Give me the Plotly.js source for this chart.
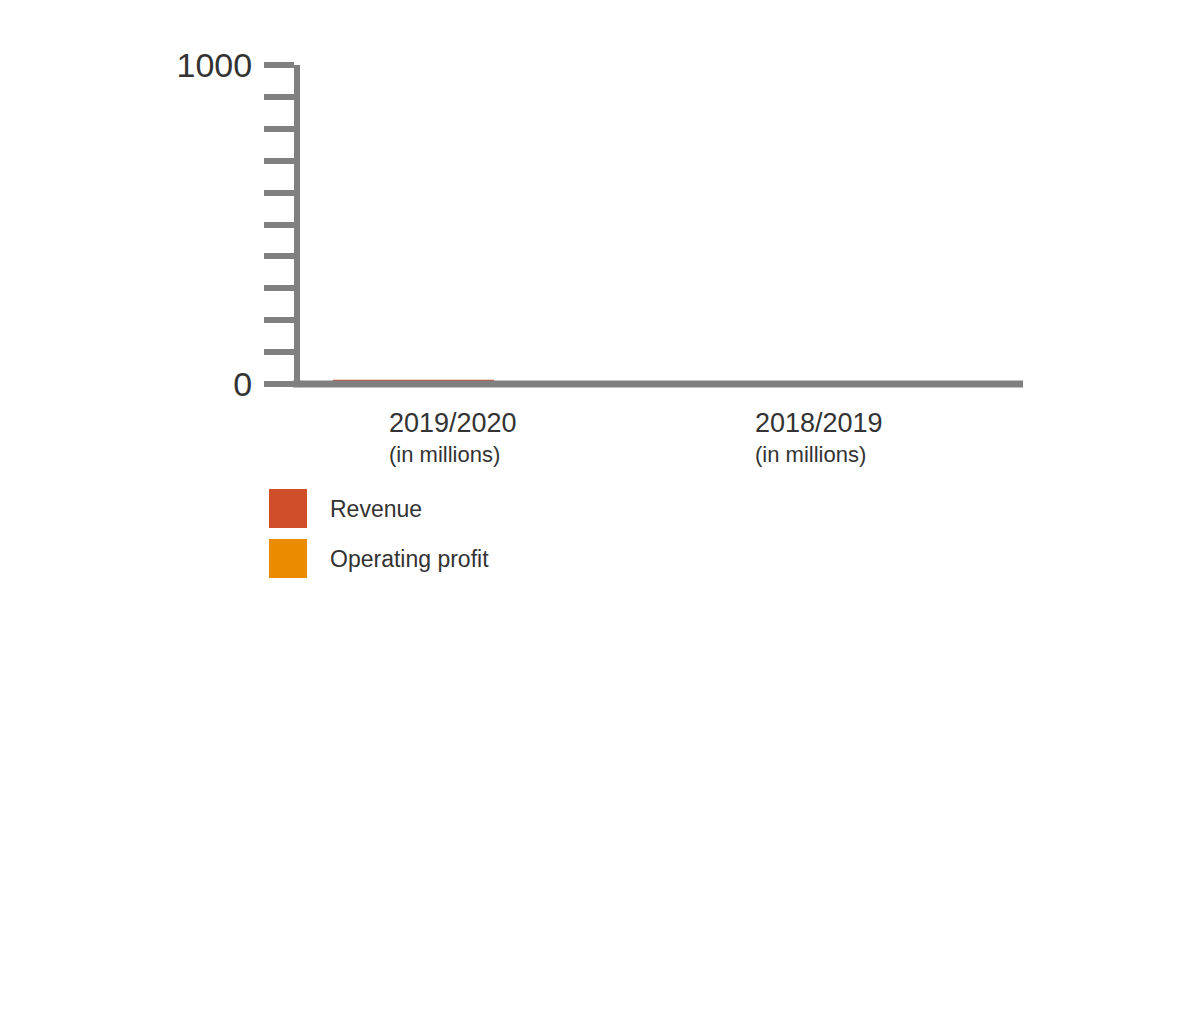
<!DOCTYPE html>
<html>
<head>
<meta charset="utf-8">
<script src="https://cdn.plot.ly/plotly-3.0.1.min.js"></script>
<style>html,body{margin:0;padding:0;background:#fff;}#chart{width:1200px;height:1035px;}</style>
</head>
<body>
<div id="chart"></div>
<script>
// ---- data ----
var categories = ['2019/2020', '2018/2019'];
var subLabels = ['(in millions)', '(in millions)'];
var seriesNames = ['Revenue', 'Operating profit'];
var seriesColors = ['#D04E2A', '#EB8C00'];
var revenue = [13, 0];
var operatingProfit = [0, 0];
var yTickValues = [0, 100, 200, 300, 400, 500, 600, 700, 800, 900, 1000];
var yTickLabels = ['0', '', '', '', '', '', '', '', '', '', '1000'];

var FONT = 'Liberation Sans, Arial, Helvetica, sans-serif';
var GRAY = '#808080';
var TXT = '#333333';

var seriesValues = [revenue, operatingProfit];
var traces = seriesNames.map(function (n, i) {
  return {
    type: 'bar',
    name: n,
    x: categories,
    y: seriesValues[i],
    marker: {color: seriesColors[i], line: {width: 0}},
    showlegend: false,
    hoverinfo: 'none'
  };
});

var annotations = [];
categories.forEach(function (c, i) {
  annotations.push({
    x: c, xref: 'x', xanchor: 'left', xshift: -107,
    y: 0, yref: 'paper', yanchor: 'middle', yshift: -39,
    text: c, showarrow: false, align: 'left',
    font: {family: FONT, size: 27, color: TXT}
  });
  annotations.push({
    x: c, xref: 'x', xanchor: 'left', xshift: -107,
    y: 0, yref: 'paper', yanchor: 'middle', yshift: -70,
    text: subLabels[i], showarrow: false, align: 'left',
    font: {family: FONT, size: 22, color: TXT}
  });
});

// baseline (x axis line at y = 0, which is the bottom of the plot area)
var shapes = [{
  type: 'line', xref: 'paper', yref: 'paper', x0: 0, x1: 1, y0: 0, y1: 0,
  line: {color: GRAY, width: 7}, layer: 'above'
}, {
  type: 'line', xref: 'paper', yref: 'paper', xsizemode: 'pixel', xanchor: 0,
  x0: -7, x1: 1, y0: 0, y1: 0,
  line: {color: GRAY, width: 7}, layer: 'above'
}];

seriesNames.forEach(function (n, i) {
  var top = -105 - i * 50;
  shapes.push({
    type: 'rect', xref: 'paper', yref: 'paper',
    xsizemode: 'pixel', ysizemode: 'pixel',
    xanchor: 0, yanchor: 0,
    x0: -31, x1: 7, y0: top, y1: top - 39,
    fillcolor: seriesColors[i], line: {width: 0}
  });
  annotations.push({
    x: 0, xref: 'paper', xanchor: 'left', xshift: 28,
    y: 0, yref: 'paper', yanchor: 'middle', yshift: top - 20,
    text: n, showarrow: false, align: 'left',
    font: {family: FONT, size: 23, color: TXT}
  });
});

var layout = {
  width: 1200, height: 1035,
  margin: {l: 300, r: 177, t: 65, b: 651, pad: 0},
  paper_bgcolor: '#ffffff', plot_bgcolor: '#ffffff',
  font: {family: FONT, color: TXT},
  barmode: 'group', bargap: 0.12, bargroupgap: 0,
  showlegend: false,
  xaxis: {
    type: 'category', range: [-0.53, 1.445],
    showticklabels: false, ticks: '', showgrid: false, zeroline: false, showline: false,
    fixedrange: true
  },
  yaxis: {
    range: [0, 1000], showgrid: false, zeroline: false,
    showline: true, linecolor: GRAY, linewidth: 6,
    ticks: 'outside', ticklen: 30, tickwidth: 6, tickcolor: GRAY,
    tickvals: yTickValues, ticktext: yTickLabels,
    tickfont: {family: FONT, size: 34, color: TXT},
    ticklabelstandoff: 5,
    fixedrange: true
  },
  annotations: annotations,
  shapes: shapes
};

Plotly.newPlot('chart', traces, layout, {displayModeBar: false, staticPlot: true});
</script>
</body>
</html>
